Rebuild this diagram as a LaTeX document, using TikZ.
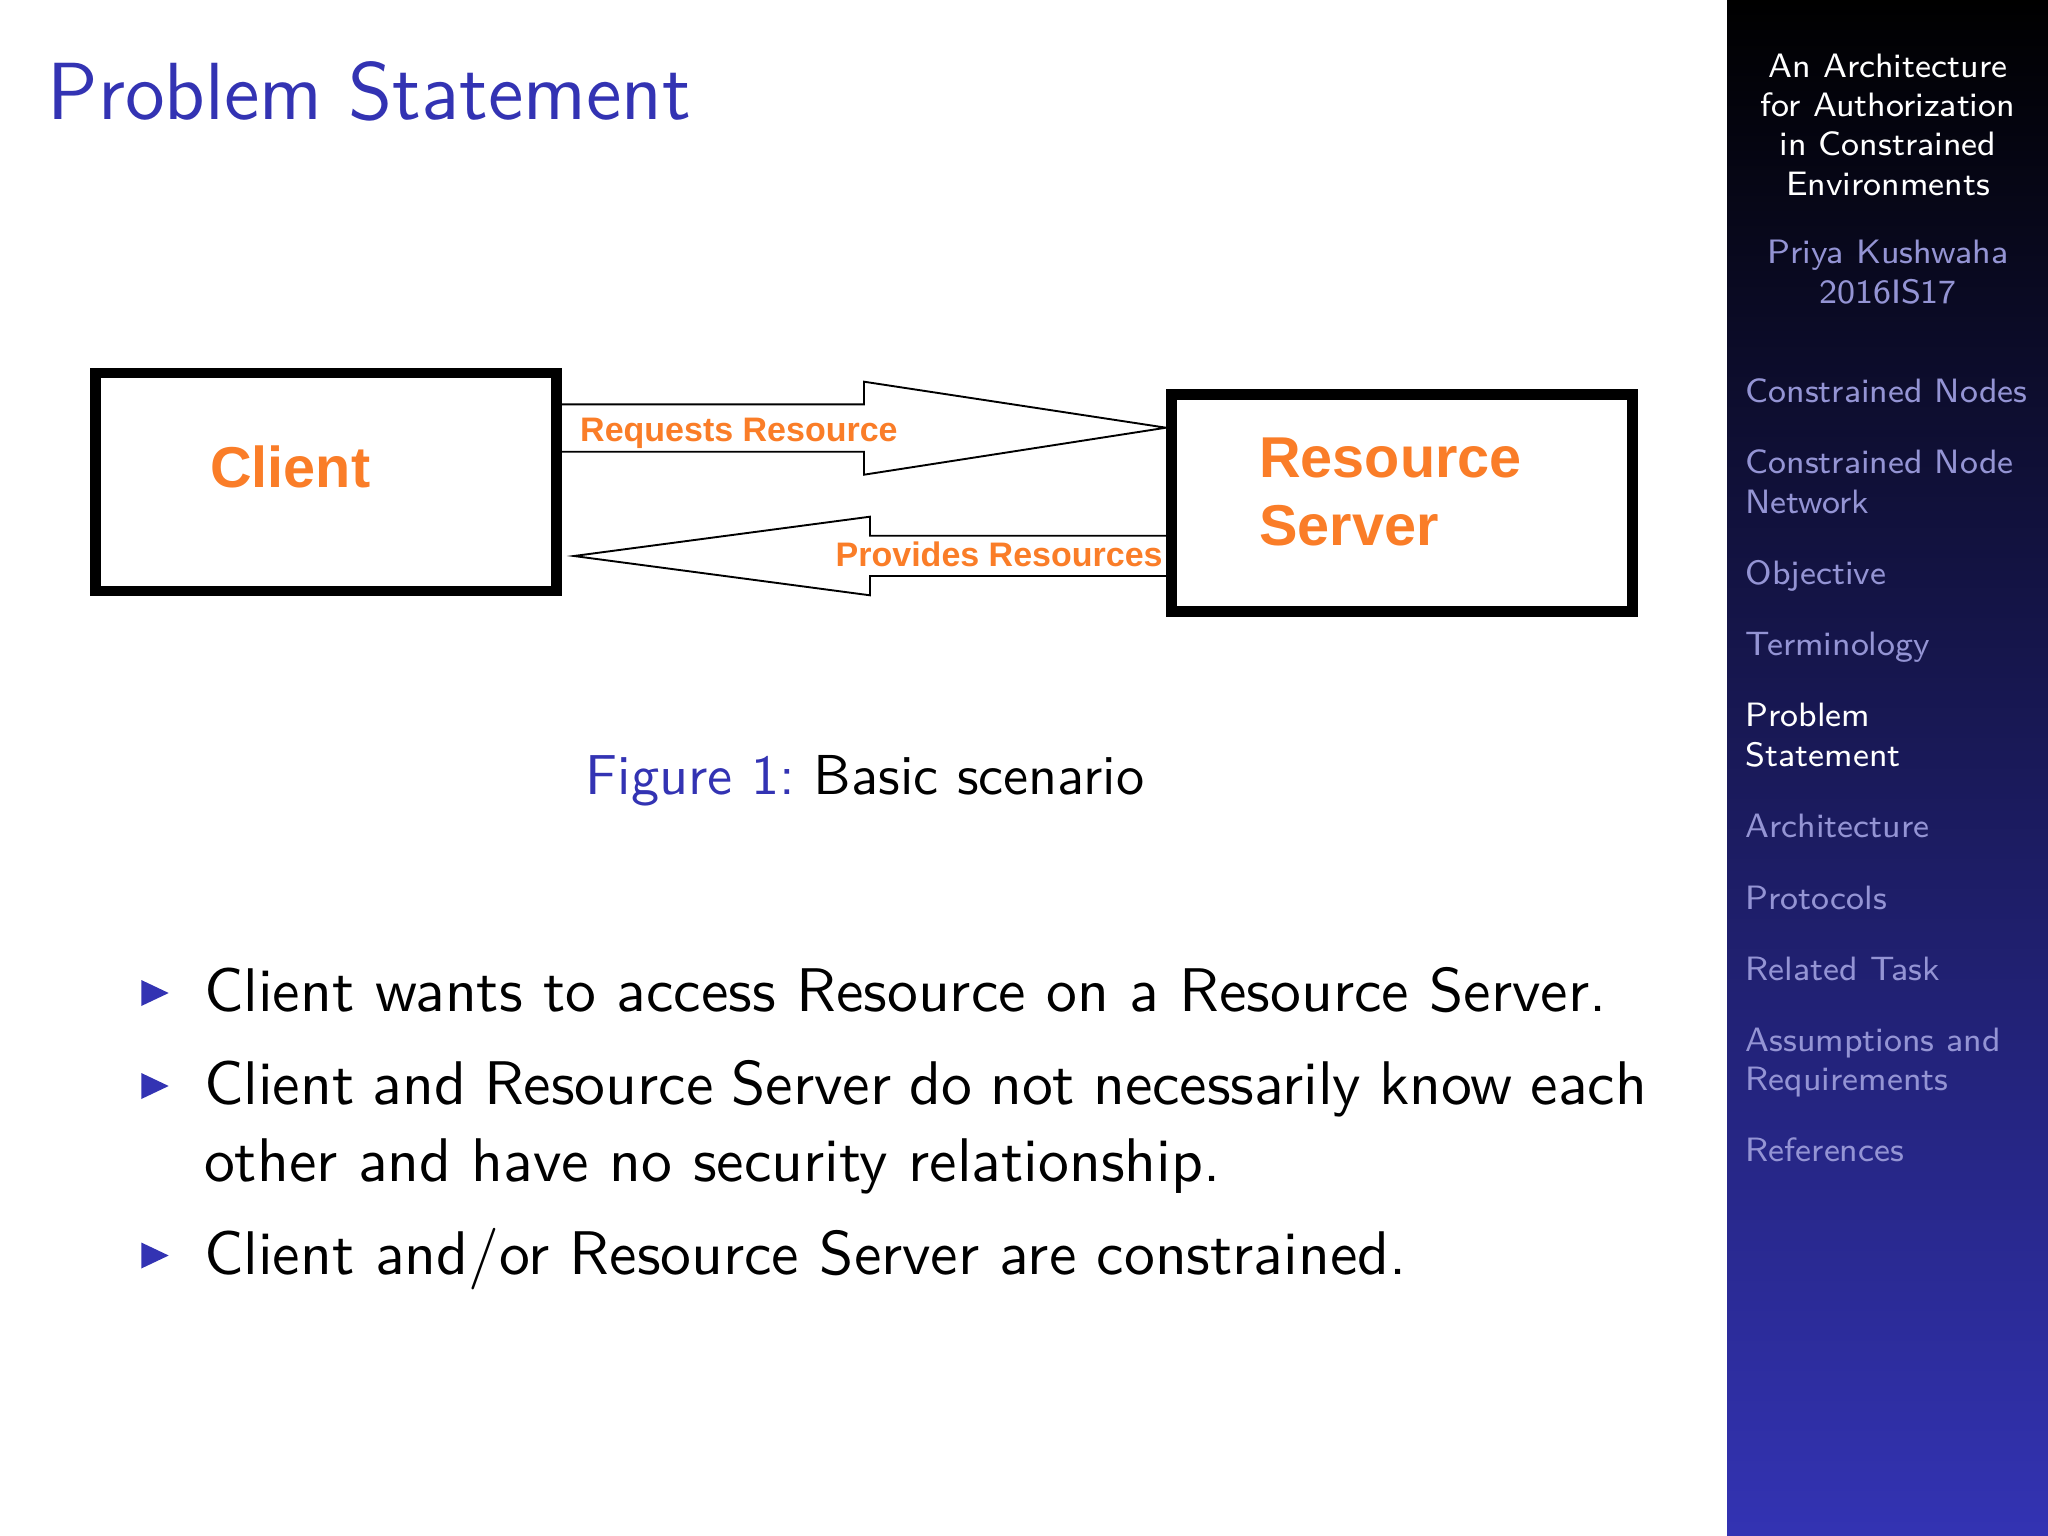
\documentclass[tikz,border=0pt]{standalone}
\usepackage{fontspec}
\newfontfamily\arialf{Liberation Sans}
\definecolor{slideblue}{RGB}{51,51,179}
\definecolor{navblue}{RGB}{148,148,212}
\definecolor{boxorange}{RGB}{250,125,40}
\tikzset{
  box/.style={draw=black, line width=10.5pt, fill=white, inner sep=0pt},
  blockarrow/.style={draw=black, line width=1.9pt, fill=white, line join=miter},
  boxtext/.style={anchor=base west, inner sep=0pt, text=boxorange, font=\arialf\bfseries\fontsize{57.6}{68}\selectfont, align=left},
  arrowtext/.style={anchor=base west, inner sep=0pt, text=boxorange, font=\arialf\bfseries\fontsize{34}{40}\selectfont},
  slidetext/.style={anchor=base west, inner sep=0pt, scale=5.63, text=black, font=\sffamily\fontsize{10.95}{13.68}\selectfont, align=left},
  captiontext/.style={anchor=base west, inner sep=0pt, scale=5.63, text=black, font=\sffamily\fontsize{10}{12}\selectfont},
  sidehead/.style={anchor=base, inner sep=0pt, scale=5.64, font=\sffamily\fontsize{6}{6.97}\selectfont, align=center},
  navitem/.style={anchor=base west, inner sep=0pt, scale=5.63, text=navblue, font=\sffamily\fontsize{6}{6.97}\selectfont, align=left},
  bullet/.style={fill=slideblue},
}
\begin{document}
\begin{tikzpicture}[x=1pt,y=-1pt]
\useasboundingbox (0,0) rectangle (2048,1536);
\fill[white] (0,0) rectangle (2048,1536);
% sidebar
\shade[top color=black, bottom color=slideblue] (1727,0) rectangle (2048,1536);
% title
\node[anchor=base west, inner sep=0pt, scale=5.63, text=slideblue, font=\sffamily\fontsize{14.4}{17}\selectfont] (title) at (46.5,120) {Problem Statement};
% block arrows
\coordinate (reqa) at (561,404.3);
\coordinate (reqb) at (864,404.3);
\coordinate (reqc) at (864,381.7);
\coordinate (reqtip) at (1166,427.7);
\coordinate (reqd) at (864,474.7);
\coordinate (reqe) at (864,451.7);
\coordinate (reqf) at (561,451.7);
\draw[blockarrow] (reqa) -- (reqb) -- (reqc) -- (reqtip) -- (reqd) -- (reqe) -- (reqf) -- cycle;
\coordinate (prova) at (1167,535.7);
\coordinate (provb) at (870,535.7);
\coordinate (provc) at (870,516.7);
\coordinate (provtip) at (574,556);
\coordinate (provd) at (870,595.3);
\coordinate (prove) at (870,576);
\coordinate (provf) at (1167,576);
\draw[blockarrow] (prova) -- (provb) -- (provc) -- (provtip) -- (provd) -- (prove) -- (provf) -- cycle;
% boxes
\node[box, minimum width=461pt, minimum height=218pt] (client) at (326,482) {};
\node[box, minimum width=461pt, minimum height=217pt] (server) at (1402,503) {};
\node[boxtext] (clienttxt) at (210,487.7) {Client};
\node[boxtext] (servertxt) at (1259,545) {Resource\\[0pt]Server};
\node[arrowtext] (reqtxt) at (580,441) {Requests Resource};
\node[arrowtext] (provtxt) at (835.5,566.7) {Provides Resources};
% caption
\node[captiontext] (caption) at (584.5,794) {\textcolor{slideblue}{Figure 1:}\ Basic scenario};
% bullets
\foreach \y in {1011,1104,1273.5} \fill[bullet] (141.3,\y-31) -- (168.7,\y-18) -- (141.3,\y-5) -- cycle;
\node[slidetext] (item1) at (203,1011.5) {Client wants to access Resource on a Resource Server.};
\node[slidetext] (item2) at (203,1181.5) {{\spaceskip=3.22pt Client and Resource Server do not necessarily know each}\\other and have no security relationship.};
\node[slidetext] (item3) at (203,1274.5) {Client and/or Resource Server are constrained.};
% sidebar text
\node[sidehead, text=white] (talk) at (1888,195.3) {An Architecture\\for Authorization\\in Constrained\\Environments};
\node[sidehead, text=navblue] (author) at (1888,303) {Priya Kushwaha\\2016IS17};
\node[navitem] (nav1) at (1744.5,402) {Constrained Nodes};
\node[navitem] (nav2) at (1744.5,513) {Constrained Node\\Network};
\node[navitem] (nav3) at (1744.5,584) {Objective};
\node[navitem] (nav4) at (1744.5,655) {Terminology};
\node[navitem, text=white] (nav5) at (1744.5,766) {Problem\\Statement};
\node[navitem] (nav6) at (1744.5,837) {Architecture};
\node[navitem] (nav7) at (1744.5,909) {Protocols};
\node[navitem] (nav8) at (1744.5,980) {Related Task};
\node[navitem] (nav9) at (1744.5,1090.5) {Assumptions and\\Requirements};
\node[navitem] (nav10) at (1744.5,1161) {References};
\end{tikzpicture}
\end{document}
